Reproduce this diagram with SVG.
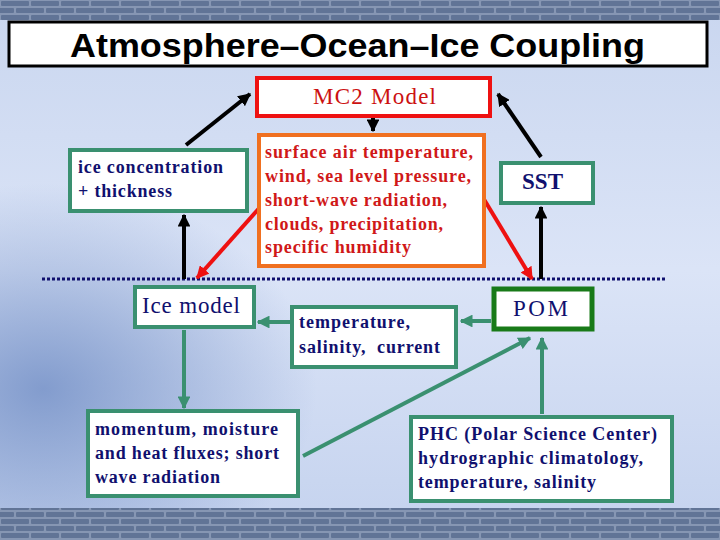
<svg xmlns="http://www.w3.org/2000/svg" width="720" height="540" viewBox="0 0 720 540">
<defs>
<linearGradient id="bg" x1="0" y1="0" x2="0" y2="1">
<stop offset="0" stop-color="#c9d6ef"/>
<stop offset="0.5" stop-color="#dbe4f7"/>
<stop offset="1" stop-color="#c4d2ee"/>
</linearGradient>
<radialGradient id="shade" cx="0.06" cy="0.72" r="0.38">
<stop offset="0" stop-color="#6f8cc4" stop-opacity="0.8"/>
<stop offset="1" stop-color="#6f8cc4" stop-opacity="0"/>
</radialGradient>
<pattern id="brick" width="60" height="14" patternUnits="userSpaceOnUse">
<rect width="60" height="14" fill="#8696b3"/>
<rect x="1" y="1" width="28" height="5" rx="1" fill="#617496"/>
<rect x="31" y="1" width="28" height="5" rx="1" fill="#617496"/>
<rect x="-14" y="8" width="28" height="5" rx="1" fill="#617496"/>
<rect x="16" y="8" width="28" height="5" rx="1" fill="#617496"/>
<rect x="46" y="8" width="28" height="5" rx="1" fill="#617496"/>
</pattern>
<marker id="ahK" viewBox="0 0 10 10" refX="9" refY="5" markerWidth="3.2" markerHeight="3.2" orient="auto"><path d="M0,0 L10,5 L0,10 z" fill="#000"/></marker>
<marker id="ahR" viewBox="0 0 10 10" refX="9" refY="5" markerWidth="3.2" markerHeight="3.2" orient="auto"><path d="M0,0 L10,5 L0,10 z" fill="#ee1111"/></marker>
<marker id="ahG" viewBox="0 0 10 10" refX="9" refY="5" markerWidth="3.2" markerHeight="3.2" orient="auto"><path d="M0,0 L10,5 L0,10 z" fill="#3a9070"/></marker>
</defs>
<style>
.box{fill:#fff}
.g{stroke:#3a9070;stroke-width:4}
.t{font-family:"Liberation Serif","Times New Roman",serif;font-weight:bold;font-size:18px;fill:#10106e}
.tr{font-family:"Liberation Serif","Times New Roman",serif;font-weight:bold;font-size:18px;fill:#d01818}
.big{font-family:"Liberation Serif","Times New Roman",serif;font-size:23px;fill:#10106e}
.k{stroke:#000;stroke-width:4;fill:none}
.r{stroke:#ee1111;stroke-width:4;fill:none}
.gl{stroke:#3a9070;stroke-width:4;fill:none}
</style>
<rect width="720" height="540" fill="url(#bg)"/>
<rect width="720" height="540" fill="url(#shade)"/>
<rect x="0" y="0" width="720" height="20" fill="url(#brick)"/>
<rect x="0" y="508" width="720" height="32" fill="url(#brick)"/>

<g id="title">
<rect x="9" y="22" width="698" height="44" fill="#fff" stroke="#000" stroke-width="3"/>
<text x="70" y="57" textLength="575" lengthAdjust="spacingAndGlyphs" font-family="'Liberation Sans',Arial,sans-serif" font-weight="bold" font-size="33" fill="#000">Atmosphere–Ocean–Ice Coupling</text>
</g>

<g id="connectors">
<line x1="42" y1="279" x2="665" y2="279" stroke="#10106e" stroke-width="3" stroke-dasharray="3,2"/>
<line x1="373" y1="117" x2="373" y2="131" class="k" marker-end="url(#ahK)"/>
<line x1="186" y1="145" x2="250" y2="94" class="k" marker-end="url(#ahK)"/>
<line x1="541" y1="157" x2="498" y2="94" class="k" marker-end="url(#ahK)"/>
<line x1="184" y1="279" x2="184" y2="215" class="k" marker-end="url(#ahK)"/>
<line x1="541" y1="279" x2="541" y2="207" class="k" marker-end="url(#ahK)"/>
<line x1="262" y1="205" x2="197" y2="278" class="r" marker-end="url(#ahR)"/>
<line x1="482" y1="196" x2="532" y2="279" class="r" marker-end="url(#ahR)"/>
<line x1="291" y1="322" x2="258" y2="322" class="gl" marker-end="url(#ahG)"/>
<line x1="491" y1="321" x2="461" y2="321" class="gl" marker-end="url(#ahG)"/>
<line x1="184" y1="330" x2="184" y2="408" class="gl" marker-end="url(#ahG)"/>
<line x1="303" y1="456" x2="530" y2="338" class="gl" marker-end="url(#ahG)"/>
<line x1="542" y1="414" x2="542" y2="338" class="gl" marker-end="url(#ahG)"/>
</g>

<g id="mc2">
<rect x="257" y="78" width="233" height="38" class="box" stroke="#ee1111" stroke-width="4"/>
<text x="313" y="104" textLength="123" font-family="'Liberation Serif','Times New Roman',serif" font-size="23" fill="#cc1111">MC2 Model</text>
</g>

<g id="atmos-fields">
<rect x="259" y="135" width="225" height="131" class="box" stroke="#f07020" stroke-width="4"/>
<text class="tr" x="265" y="158" textLength="208">surface air temperature,</text>
<text class="tr" x="265" y="182" textLength="206">wind, sea level pressure,</text>
<text class="tr" x="265" y="206" textLength="182">short-wave radiation,</text>
<text class="tr" x="265" y="230" textLength="178">clouds, precipitation,</text>
<text class="tr" x="265" y="253" textLength="146">specific humidity</text>
</g>

<g id="ice-conc">
<rect x="70" y="150" width="177" height="61" class="box g"/>
<text class="t" x="78" y="173" textLength="145">ice concentration</text>
<text class="t" x="78" y="197" textLength="94">+ thickness</text>
</g>

<g id="sst">
<rect x="501" y="163" width="92" height="40" class="box g"/>
<text x="522" y="189" textLength="41" font-family="'Liberation Serif','Times New Roman',serif" font-weight="bold" font-size="23" fill="#10106e">SST</text>
</g>

<g id="ice-model">
<rect x="135" y="287" width="119" height="40" class="box g"/>
<text class="big" x="142" y="313" textLength="98">Ice model</text>
</g>

<g id="ocean-fields">
<rect x="292" y="307" width="164" height="60" class="box g"/>
<text class="t" x="299" y="328" textLength="111">temperature,</text>
<text class="t" x="299" y="353" textLength="141" xml:space="preserve">salinity,  current</text>
</g>

<g id="pom">
<rect x="494" y="289" width="98" height="40" class="box" stroke="#187a18" stroke-width="5"/>
<text class="big" x="513" y="316" textLength="55">POM</text>
</g>

<g id="fluxes">
<rect x="88" y="411" width="210" height="85" class="box g"/>
<text class="t" x="95" y="435" textLength="183">momentum, moisture</text>
<text class="t" x="95" y="459" textLength="184">and heat fluxes; short</text>
<text class="t" x="95" y="483" textLength="125">wave radiation</text>
</g>

<g id="phc">
<rect x="411" y="417" width="261" height="84" class="box g"/>
<text class="t" x="418" y="440" textLength="239">PHC (Polar Science Center)</text>
<text class="t" x="418" y="464" textLength="225">hydrographic climatology,</text>
<text class="t" x="418" y="488" textLength="178">temperature, salinity</text>
</g>
</svg>
